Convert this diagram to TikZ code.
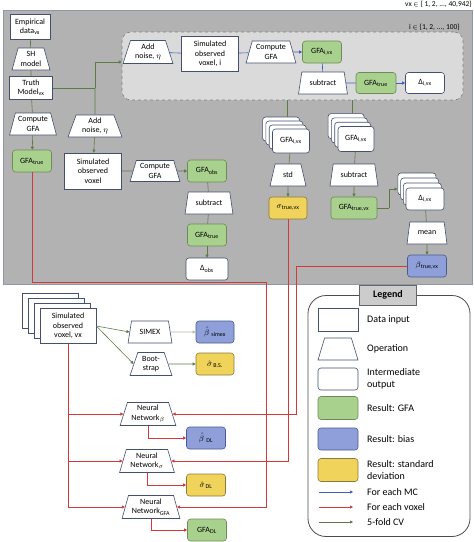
\documentclass[tikz,border=0pt]{standalone}
\usepackage{fontspec}
\setmainfont{Carlito}
\usetikzlibrary{shapes.geometric,arrows.meta,calc}
\definecolor{bg}{HTML}{B2B2B2}
\definecolor{innerbg}{HTML}{DADADA}
\definecolor{edge}{HTML}{44506E}
\definecolor{gfill}{HTML}{A9D18E}
\definecolor{gedge}{HTML}{6E8A5A}
\definecolor{bfill}{HTML}{8E9FDA}
\definecolor{bedge}{HTML}{4A5A8C}
\definecolor{yfill}{HTML}{F0D35A}
\definecolor{yedge}{HTML}{8C7A3C}
\definecolor{cvg}{HTML}{5E7A44}
\definecolor{mcb}{HTML}{3F5FBF}
\definecolor{vxr}{HTML}{D23A3A}
\newcommand\fs{\fontsize{8}{9.4}\selectfont}
\newcommand\lfs{\fontsize{10}{12.5}\selectfont}
\newcommand\sub[1]{\textsubscript{#1}}
\tikzset{
  sz/.style 2 args={minimum width=#1pt, minimum height=#2pt},
  base/.style={draw=edge, fill=white, line width=0.6pt, align=center, inner sep=0.5pt, font=\fs},
  inbox/.style={base, rectangle},
  opbox/.style={base, trapezium, trapezium stretches=true, trapezium left angle=72, trapezium right angle=72},
  midbox/.style={base, rectangle, rounded corners=3pt},
  gbox/.style={midbox, fill=gfill, draw=gedge},
  bbox/.style={midbox, fill=bfill, draw=bedge},
  ybox/.style={midbox, fill=yfill, draw=yedge},
  tip/.style={-{Triangle[length=3pt,width=3pt]}},
  cv/.style={draw=cvg, line width=0.6pt},
  mc/.style={draw=mcb, line width=0.6pt},
  vox/.style={draw=vxr, line width=0.7pt},
  ltxt/.style={anchor=west, align=left, font=\lfs, inner sep=0pt},
}
\begin{document}
\begin{tikzpicture}[x=1pt,y=-1pt]
\useasboundingbox (0,0) rectangle (474,542);
% backgrounds
\fill[bg, draw=edge!60, line width=0.5pt] (3,10) rectangle (472,284);
\node[font=\fontsize{7.5}{8}\selectfont, anchor=east, inner sep=0pt] (vxset) at (472,4) {vx $\in$ \{ 1, 2, ..., 40,942\}};
\node[draw=gray, dashed, fill=innerbg, rounded corners=9pt, line width=0.6pt, sz={341}{68}] (dbox) at (292.5,66) {};
\node[font=\fontsize{7.5}{8}\selectfont, anchor=east, inner sep=0pt] (iset) at (460,27) {i $\in$ \{1, 2, ..., 100\}};

% left column
\node[inbox, sz={40}{25}] (emp) at (30,27) {Empirical\\data\sub{vx}};
\node[opbox, sz={38}{22}] (sh) at (31,59) {SH\\model};
\node[inbox, sz={43}{23}] (truth) at (31,88) {Truth\\Model\sub{vx}};
\node[opbox, sz={47}{22}] (cg1) at (33,124) {Compute\\GFA};
\node[gbox, sz={39}{22}] (gt1) at (32,161) {GFA\sub{true}};

\node[opbox, sz={54}{22}] (an2) at (95,126) {Add\\noise, $\eta$};
\node[inbox, sz={57}{36}] (sov) at (93,171) {Simulated\\observed\\voxel};
\node[opbox, sz={50}{21}] (cg2) at (155,171) {Compute\\GFA};
\node[gbox, sz={39}{22}] (gobs) at (207,171) {GFA\sub{obs}};
\node[opbox, sz={48}{22}] (sub2) at (209,203) {subtract};
\node[gbox, sz={39}{22}] (gt2) at (207,235) {GFA\sub{true}};
\node[midbox, sz={42}{22}] (dobs) at (207,269) {Δ\sub{obs}};

% dashed MC loop
\node[opbox, sz={50}{23}] (an1) at (148,52) {Add\\noise, $\eta$};
\node[inbox, sz={57}{35}] (sovi) at (210,54) {Simulated\\observed\\voxel, i};
\node[opbox, sz={50}{22}] (cg3) at (271,52) {Compute\\GFA};
\node[gbox, sz={39}{22}] (giv) at (322,52) {GFA\sub{i,vx}};
\node[opbox, sz={49}{22}] (sub1) at (323,83) {subtract};
\node[gbox, sz={40}{21}] (gt3) at (376,83) {GFA\sub{true}};
\node[midbox, sz={39}{21}] (div) at (425,83) {Δ\sub{i,vx}};

% stack 1
\node[midbox, sz={37}{24}] (s1c) at (281.1,129) {};
\node[midbox, sz={37}{24}] (s1b) at (284.4,133) {};
\node[midbox, sz={37}{24}] (s1a) at (287.7,137) {};
\node[midbox, sz={37}{24}] (s1) at (291,141) {GFA\sub{i,vx}};
\node[opbox, sz={36}{22}] (std) at (288,175) {std};
\node[ybox, sz={38}{22}] (sig) at (288,208) {$\sigma$\sub{true,vx}};
% stack 2
\node[midbox, sz={36}{25}] (s2c) at (346.1,126.1) {};
\node[midbox, sz={36}{25}] (s2b) at (349.4,130.4) {};
\node[midbox, sz={36}{25}] (s2a) at (352.7,134.7) {};
\node[midbox, sz={36}{25}] (s2) at (356,139) {GFA\sub{i,vx}};
\node[opbox, sz={48}{22}] (sub3) at (354,175) {subtract};
\node[gbox, sz={46}{22}] (gtv) at (354,208) {GFA\sub{true,vx}};
% stack 3
\node[midbox, sz={38}{22}] (s3c) at (416.9,184) {};
\node[midbox, sz={38}{22}] (s3b) at (419.6,189) {};
\node[midbox, sz={38}{22}] (s3a) at (422.3,194) {};
\node[midbox, sz={38}{22}] (s3) at (425,199) {Δ\sub{i,vx}};
\node[opbox, sz={40}{22}] (mean) at (427,233) {mean};
\node[bbox, sz={39}{22}] (btv) at (427,266) {$\beta$\sub{true,vx}};

% connectors in gray region
\draw[cv] (emp) -- (sh);
\draw[cv] (sh) -- (truth);
\draw[cv] (truth) -- (cg1);
\draw[cv, tip] (cg1) -- (gt1);
\coordinate (j1) at (95,88);
\draw[cv] (truth.east) -- (j1);
\draw[cv, tip] (j1) |- ([yshift=4pt]dbox.west);
\draw[cv] (j1) -- (an2.north);
\draw[cv, tip] (an2) -- (sov);
\draw[cv] (sov) -- (cg2);
\draw[cv, tip] (cg2) -- (gobs);
\draw[cv] (gobs) -- (sub2);
\draw[cv] (sub2) -- (gt2);
\draw[cv, tip] (gt2) -- (dobs);

\draw[mc] (an1) -- (sovi);
\draw[mc] (sovi) -- (cg3);
\draw[mc, tip] (cg3) -- (giv);
\draw[mc] (giv) -- (sub1);
\draw[mc] (sub1) -- (gt3);
\draw[mc, tip] (gt3) -- (div);

\coordinate (d1) at (287,100);
\coordinate (d2) at (352,100);
\draw[cv] (d1) -- (d1 |- s1c.north);
\draw[cv] (d2) -- (d2 |- s2c.north);
\draw[cv] (s1) -- (std);
\draw[cv, tip] (std) -- (sig);
\draw[cv] (s2) -- (sub3);
\draw[cv, tip] (sub3) -- (gtv);
\coordinate (k1) at (389,208);
\draw[cv] (gtv.east) -- (k1);
\draw[cv, tip] (k1) |- ([yshift=-5pt]s3c.west);
\draw[cv] (s3) -- (mean);
\draw[cv, tip] (mean) -- (btv);

% lower part
\node[inbox, sz={56}{35}] (svxc) at (50,311) {};
\node[inbox, sz={56}{35}] (svxb) at (56,316) {};
\node[inbox, sz={56}{35}] (svxa) at (62,321) {};
\node[inbox, sz={56}{35}] (svx) at (68,326) {Simulated\\observed\\voxel, vx};
\node[opbox, sz={44}{22}] (simex) at (150,332) {SIMEX};
\node[bbox, sz={38}{22}] (bsim) at (215,332) {$\hat\beta$\kern2.2pt\sub{simex}};
\node[opbox, sz={42}{23}] (boot) at (151,364) {Boot-\\strap};
\node[ybox, sz={38}{22}] (sbs) at (215,364) {$\hat\sigma$\kern1pt\sub{B.S.}};
\node[opbox, sz={56}{23}] (nnb) at (148,414) {Neural\\Network\sub{$\beta$}};
\node[bbox, sz={39}{22}] (bdl) at (206,438) {$\hat\beta$\kern2.2pt\sub{DL}};
\node[opbox, sz={55}{23}] (nns) at (147,461) {Neural\\Network\sub{$\sigma$}};
\node[ybox, sz={39}{22}] (sdl) at (206,485) {$\hat\sigma$\kern1pt\sub{DL}};
\node[opbox, sz={58}{23}] (nng) at (151,507) {Neural\\Network\sub{GFA}};
\node[gbox, sz={39}{22}] (gdl) at (207,530) {GFA\sub{DL}};

\draw[cv, tip] (svx.east) -- (simex.west);
\draw[cv, tip] (svx.east) -- (boot.west);
\draw[cv, draw=cvg!50, tip] (simex) -- (bsim);
\draw[cv, tip] (boot) -- (sbs);

% red connectors
\coordinate (r1) at (266,282);
\draw[vox] (gt1.south) |- (r1);
\draw[vox, tip] (r1) |- (nng.east);
\draw[vox, tip] (sig.south) |- (nns.east);
\coordinate (r3) at (296,266);
\draw[vox] (btv.west) -- (r3);
\draw[vox, tip] (r3) |- (nnb.east);
\draw[vox, tip] (svx.south) |- (nng.west);
\draw[vox, tip] (svx.south |- nnb.west) -- (nnb.west);
\draw[vox, tip] (svx.south |- nns.west) -- (nns.west);
\draw[vox, tip] (nnb.south) |- (bdl.west);
\draw[vox, tip] (nns.south) |- (sdl.west);
\draw[vox, tip] (nng.south) |- (gdl.west);

% legend
\node[draw=black!70, line width=0.8pt, rounded corners=18pt, sz={162}{241}] (leg) at (389,416) {};
\node[draw=black!60, fill=black!20, line width=0.6pt, sz={57}{20}, font=\lfs\bfseries] (legt) at (388,295) {Legend};
\node[inbox, sz={40}{23}] (l1) at (338,320) {};
\node[ltxt] (t1) at (367,320) {Data input};
\node[opbox, sz={40}{22}, trapezium left angle=76, trapezium right angle=76] (l2) at (338,349) {};
\node[ltxt] (t2) at (367,349) {Operation};
\node[midbox, sz={40}{22}] (l3) at (338,379) {};
\node[ltxt] (t3) at (367,379) {Intermediate\\output};
\node[gbox, sz={40}{23}] (l4) at (338,408) {};
\node[ltxt] (t4) at (367,408) {Result: GFA};
\node[bbox, sz={40}{22}] (l5) at (338,439) {};
\node[ltxt] (t5) at (367,439) {Result: bias};
\node[ybox, sz={40}{23}] (l6) at (338,470) {};
\node[ltxt] (t6) at (367,470) {Result: standard\\deviation};
\coordinate (a1) at (319,492); \coordinate (b1) at (353,492);
\coordinate (a2) at (319,507); \coordinate (b2) at (353,507);
\coordinate (a3) at (319,522); \coordinate (b3) at (353,522);
\draw[mc, tip] (a1) -- (b1);
\draw[vox, tip] (a2) -- (b2);
\draw[cv, tip] (a3) -- (b3);
\node[ltxt] (t7) at (367,492) {For each MC};
\node[ltxt] (t8) at (367,507) {For each voxel};
\node[ltxt] (t9) at (367,522) {5-fold CV};
\end{tikzpicture}
\end{document}
